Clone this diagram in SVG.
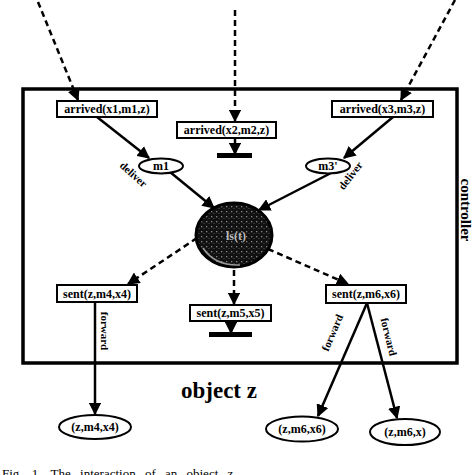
<svg xmlns="http://www.w3.org/2000/svg" width="474" height="475" viewBox="0 0 474 475">
<style>
.box{fill:#fff;stroke:#000;stroke-width:2}
.ell{fill:#fff;stroke:#000;stroke-width:2}
.t{font-family:"Liberation Serif",serif;font-weight:bold;font-size:12px;fill:#000}
.lbl{font-family:"Liberation Serif",serif;font-weight:bold;font-size:11px;fill:#000}
.solid{fill:none;stroke:#000;stroke-width:2.5}
.dash{fill:none;stroke:#000;stroke-width:2.5;stroke-dasharray:6 4}
.bar{fill:#000}
</style>
<defs>
<marker id="ah" viewBox="0 0 10 10" refX="9" refY="5" markerWidth="5" markerHeight="5" orient="auto" markerUnits="strokeWidth">
<path d="M0,0 L10,5 L0,10 z" fill="#000"/>
</marker>
<pattern id="dots" width="5" height="5" patternUnits="userSpaceOnUse">
<rect width="5" height="5" fill="#111"/>
<rect x="1" y="1" width="1.3" height="1.3" fill="#888"/>
<rect x="3.5" y="3" width="1" height="1" fill="#555"/>
</pattern>
</defs>
<rect id="objectz" x="23" y="89" width="434" height="274" fill="none" stroke="#000" stroke-width="3.5"/>
<text class="t" x="210" y="-460.5" text-anchor="middle" transform="rotate(90)" style="font-size:15px">controller</text>
<text class="t" x="219" y="398" text-anchor="middle" style="font-size:23px">object z</text>
<g id="connectors">
<line class="dash" x1="38" y1="2" x2="78" y2="100" marker-end="url(#ah)"/>
<line class="dash" x1="235" y1="10" x2="235" y2="121" marker-end="url(#ah)"/>
<line class="dash" x1="455" y1="0" x2="401" y2="100" marker-end="url(#ah)"/>
<line class="solid" x1="235" y1="138" x2="235" y2="154" marker-end="url(#ah)"/>
<line class="solid" x1="97" y1="117" x2="149" y2="158" marker-end="url(#ah)"/>
<line class="solid" x1="393" y1="117" x2="344" y2="158" marker-end="url(#ah)"/>
<line class="solid" x1="170" y1="172" x2="214" y2="208" marker-end="url(#ah)"/>
<line class="solid" x1="333" y1="172" x2="259" y2="210" marker-end="url(#ah)"/>
<line class="dash" x1="197" y1="238" x2="128" y2="284" marker-end="url(#ah)"/>
<line class="dash" x1="234" y1="270" x2="234" y2="304" marker-end="url(#ah)"/>
<line class="dash" x1="268" y1="249" x2="348" y2="284" marker-end="url(#ah)"/>
<line class="solid" x1="231" y1="321" x2="231" y2="333" marker-end="url(#ah)"/>
<line class="solid" x1="95" y1="302" x2="95" y2="414" marker-end="url(#ah)"/>
<line class="solid" x1="367" y1="303" x2="318" y2="416" marker-end="url(#ah)"/>
<line class="solid" x1="367" y1="303" x2="397" y2="418" marker-end="url(#ah)"/>
<text class="lbl" x="133" y="178" text-anchor="middle" transform="rotate(42 133 175)">deliver</text>
<text class="lbl" x="351" y="179" text-anchor="middle" transform="rotate(-52 351 176)">deliver</text>
<text class="lbl" x="104" y="334" text-anchor="middle" transform="rotate(90 104 331)">forward</text>
<text class="lbl" x="333" y="336" text-anchor="middle" transform="rotate(-67 333 333)">forward</text>
<text class="lbl" x="388" y="340" text-anchor="middle" transform="rotate(76 388 337)">forward</text>
</g>
<g id="arrived1"><rect class="box" x="57" y="101" width="100" height="16"/><text class="t" x="107" y="113" text-anchor="middle">arrived(x1,m1,z)</text></g>
<g id="arrived2"><rect class="box" x="177" y="122" width="99" height="16"/><text class="t" x="226.5" y="134" text-anchor="middle">arrived(x2,m2,z)</text></g>
<g id="arrived3"><rect class="box" x="332" y="101" width="101" height="16"/><text class="t" x="382.5" y="113" text-anchor="middle">arrived(x3,m3,z)</text></g>
<g id="bar1"><rect class="bar" x="217" y="153" width="35" height="5"/></g>
<g id="m1"><ellipse class="ell" cx="161" cy="166" rx="22" ry="7.5"/><text class="t" x="161" y="170" text-anchor="middle">m1</text></g>
<g id="m3"><ellipse class="ell" cx="328" cy="166" rx="22" ry="7.5"/><text class="t" x="328" y="170" text-anchor="middle">m3'</text></g>
<g id="state"><ellipse cx="234" cy="235" rx="38" ry="32" fill="url(#dots)" stroke="#000" stroke-width="3"/><path d="M203,248 Q215,266 240,265" fill="none" stroke="#999" stroke-width="1.5"/><text class="t" x="236" y="240" text-anchor="middle" style="fill:#bbb">ls(t)</text></g>
<g id="sent4"><rect class="box" x="57" y="285" width="80" height="17"/><text class="t" x="97" y="297.5" text-anchor="middle">sent(z,m4,x4)</text></g>
<g id="sent5"><rect class="box" x="190" y="305" width="81" height="16"/><text class="t" x="230.5" y="317" text-anchor="middle">sent(z,m5,x5)</text></g>
<g id="bar2"><rect class="bar" x="209" y="332" width="43" height="5"/></g>
<g id="sent6"><rect class="box" x="326" y="285" width="80" height="18"/><text class="t" x="366" y="298" text-anchor="middle">sent(z,m6,x6)</text></g>
<g id="out4"><ellipse class="ell" cx="95" cy="427" rx="36" ry="12"/><text class="t" x="95" y="431" text-anchor="middle">(z,m4,x4)</text></g>
<g id="out6a"><ellipse class="ell" cx="302" cy="429" rx="36" ry="12.5"/><text class="t" x="302" y="433" text-anchor="middle">(z,m6,x6)</text></g>
<g id="out6b"><ellipse class="ell" cx="405" cy="432" rx="35" ry="13"/><text class="t" x="405" y="436" text-anchor="middle">(z,m6,x)</text></g>
<text x="2" y="478" style="font-family:'Liberation Serif',serif;font-size:13px;word-spacing:6px" fill="#000">Fig. 1.   The interaction of an object z</text>
</svg>
